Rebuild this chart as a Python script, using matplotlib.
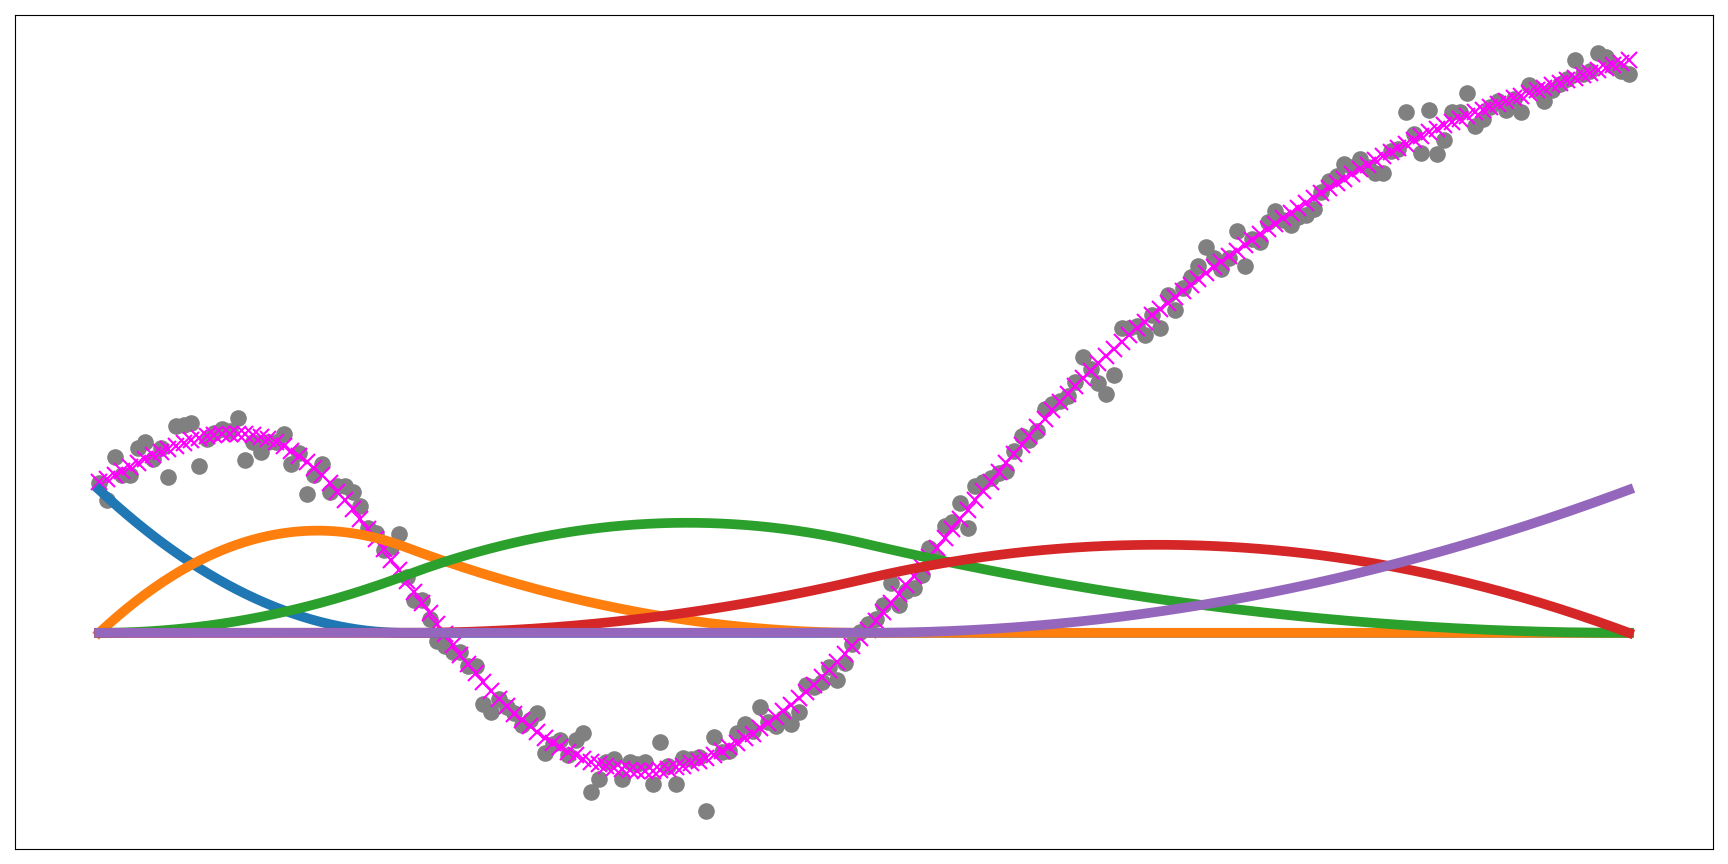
import numpy as np
import matplotlib
matplotlib.use("Agg")
import matplotlib.pyplot as plt

# gray data points, x evenly spaced on [0, 1]
y_px = [437,452,413,430,430,405,400,415,405,431,
        385,384,382,421,397,391,388,390,378,416,
        400,409,400,400,392,420,410,447,430,420,
        445,440,440,445,458,478,482,498,495,483,
        522,543,543,560,580,585,590,590,603,603,
        638,645,633,640,646,657,652,646,682,674,
        670,684,670,664,718,706,690,688,706,690,
        692,690,710,672,694,710,687,688,686,735,
        668,681,680,664,656,662,640,654,658,650,
        656,645,620,622,618,604,616,600,583,572,
        565,560,548,528,548,535,532,520,496,505,
        476,472,455,478,440,436,432,428,426,408,
        394,398,390,370,365,362,358,345,322,333,
        346,356,339,296,296,294,302,284,296,266,
        280,260,250,240,222,232,242,232,208,240,
        215,218,200,190,198,202,195,193,188,172,
        162,158,147,150,142,150,155,155,135,133,
        100,120,137,98,138,125,100,100,82,112,
        106,95,90,98,88,100,75,80,90,80,
        74,70,52,65,62,46,50,58,62,65]
y_data = [(573 - p) / 130.0 for p in y_px]
x_data = np.linspace(0, 1, len(y_data))

basis_knots = [0, 0, 0, 0.2, 0.5, 1, 1, 1]
basis_degree = 2
fit_knots = [0, 0, 0, 0] + list(np.linspace(0, 1, 9)[1:-1]) + [1, 1, 1, 1]
fit_degree = 3
colors = ['#1f77b4', '#ff7f0e', '#2ca02c', '#d62728', '#9467bd']


def bspline_basis(x, t, k):
    t = np.asarray(t, float)
    x = np.asarray(x, float)
    n = len(t) - 1
    B = np.zeros((len(x), n))
    for i in range(n):
        if t[i] < t[i + 1]:
            if t[i + 1] == t[-1]:
                B[:, i] = (x >= t[i]) & (x <= t[i + 1])
            else:
                B[:, i] = (x >= t[i]) & (x < t[i + 1])
    for d in range(1, k + 1):
        Bn = np.zeros((len(x), n - d))
        for i in range(n - d):
            a = t[i + d] - t[i]
            b = t[i + d + 1] - t[i + 1]
            term = np.zeros(len(x))
            if a > 0:
                term += (x - t[i]) / a * B[:, i]
            if b > 0:
                term += (t[i + d + 1] - x) / b * B[:, i + 1]
            Bn[:, i] = term
        B = Bn
    return B


fig = plt.figure(figsize=(17.28, 8.64), dpi=100)
ax = fig.add_subplot(111)
ax.scatter(x_data, y_data, s=120, color='gray', zorder=2)

Bd = bspline_basis(x_data, fit_knots, fit_degree)
coef, *_ = np.linalg.lstsq(Bd, np.array(y_data), rcond=None)
ax.plot(x_data, Bd @ coef, 'x', color='magenta', markersize=12, markeredgewidth=1.5, zorder=3)

xx = np.linspace(0, 1, 500)
Bb = bspline_basis(xx, basis_knots, basis_degree)
for i in range(Bb.shape[1]):
    ax.plot(xx, Bb[:, i], color=colors[i], linewidth=7, zorder=4)

ax.margins(x=0.055, y=0.05)
ax.set_xticks([])
ax.set_yticks([])
fig.tight_layout()
fig.savefig("out.png")
